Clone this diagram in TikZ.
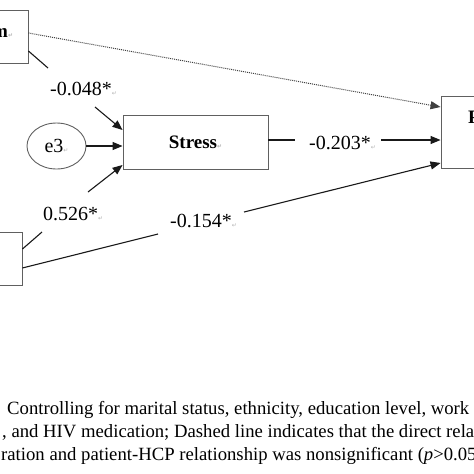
\documentclass[tikz,border=0pt]{standalone}
\usepackage{fontspec}
\setmainfont{Liberation Serif}
\newfontfamily\symf{DejaVu Sans}
\usetikzlibrary{arrows.meta,shapes.geometric}
\newcommand\rmark{{\symf\fontsize{6}{6}\selectfont\color{gray!60}↵}}
\begin{document}
\begin{tikzpicture}[x=1pt,y=-1pt,
  box/.style={draw=gray!75!black, line width=0.9pt, inner sep=0pt},
  conn/.style={line width=1.1pt, black!90},
  arr/.style={conn, -{Triangle[length=10pt,width=8pt]}},
  dotarr/.style={line width=1pt, gray!50!black, densely dotted, -{Triangle[length=10pt,width=8pt]}},
  lab/.style={anchor=base west, inner sep=0pt, font=\fontsize{20}{20}\selectfont},
  captext/.style={anchor=base west, inner sep=0pt, font=\fontsize{18.7}{18.7}\selectfont}]
\useasboundingbox (0,0) rectangle (474,474);
\clip (0,0) rectangle (474,474);
% boxes
\node[box, minimum width=68pt, minimum height=53pt] (tl) at (-6,36.5) {};
\node[lab, font=\fontsize{19}{19}\selectfont\bfseries] (tltext) at (-8,37) {m\rmark};
\node[box, minimum width=62pt, minimum height=53pt] (bl) at (-9,258.5) {};
\node[box, minimum width=145pt, minimum height=54pt, font=\fontsize{19}{19}\selectfont\bfseries] (stress) at (195.5,142) {Stress\rmark};
\node[box, ellipse, minimum width=59pt, minimum height=46pt, font=\fontsize{20}{20}\selectfont] (e3) at (56.5,146) {e3\rmark};
\node[box, minimum width=80pt, minimum height=72pt] (rb) at (481,132) {};
\node[lab, font=\fontsize{19}{19}\selectfont\bfseries] (rbtext) at (468,123) {P};
% coordinates for label gaps
\coordinate (a1) at (48,68);
\coordinate (a2) at (95,107);
\coordinate (b1) at (42,232);
\coordinate (b2) at (88,192);
\coordinate (c1) at (158,234);
\coordinate (c2) at (244,212);
\coordinate (s1) at (295,140);
\coordinate (s2) at (381,140);
% connectors
\draw[dotarr] ([yshift=3.5pt]tl.east) -- ([yshift=25pt]rb.west);
\draw[conn] ([yshift=-14.5pt]tl.east) -- (a1);
\draw[arr] (a2) -- ([yshift=12pt]stress.west);
\draw[arr] (e3.east) -- ([yshift=-4pt]stress.west);
\draw[conn] ([yshift=9.5pt]bl.east) -- (b1);
\draw[arr] (b2) -- ([yshift=-23pt]stress.west);
\draw[conn] ([yshift=-9.5pt]bl.east) -- (c1);
\draw[arr] (c2) -- ([yshift=-31pt]rb.west);
\draw[conn] ([yshift=2pt]stress.east) -- (s1);
\draw[arr] (s2) -- ([yshift=-8pt]rb.west);
% labels
\node[lab] (la) at (50,95) {-0.048*\rmark};
\node[lab] (lb) at (43,220) {0.526*\rmark};
\node[lab] (lc) at (170,227) {-0.154*\rmark};
\node[lab] (ls) at (309,149) {-0.203*\rmark};
% caption
\node[captext] (cap1) at (7,414) {Controlling for marital status, ethnicity, education level, work};
\node[captext] (cap2) at (2,437) {, and HIV medication; Dashed line indicates that the direct relationship};
\node[captext] (cap3) at (1,460) {ration and patient-HCP relationship was nonsignificant (\textit{p}>0.05).};
\end{tikzpicture}
\end{document}
